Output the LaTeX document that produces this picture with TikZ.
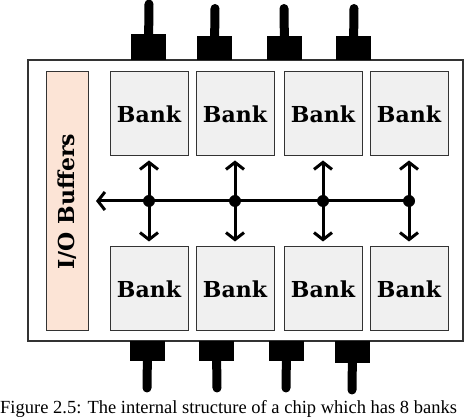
\documentclass[tikz,border=0pt]{standalone}
\usepackage{fontspec}
\setmainfont{Liberation Serif}
\newfontfamily\chipfont{DejaVu Serif}
\usepackage{tikz}
\usetikzlibrary{arrows.meta}
\tikzset{>={Straight Barb[length=7pt,width=18pt]}}
\definecolor{peach}{HTML}{FCE4D6}
\definecolor{bankgray}{HTML}{F0F0F0}
\definecolor{edge}{HTML}{333333}
\tikzset{
  bank/.style={draw=edge, line width=1pt, fill=bankgray, minimum width=78pt,
    minimum height=84pt, inner sep=0pt, font=\chipfont\bfseries\fontsize{22}{24}\selectfont},
  pad/.style={fill=black, minimum width=35pt, inner sep=0pt},
  stem/.style={line width=9pt, line cap=round},
  bus/.style={line width=3pt},
  joint/.style={circle, fill=black, minimum size=12pt, inner sep=0pt},
}

\begin{document}
\begin{tikzpicture}[x=1pt,y=-1pt]
\useasboundingbox (0,0) rectangle (474,419);

% chip and buffers
\node[draw=edge, line width=1.2pt, minimum width=435pt, minimum height=281pt] (chip) at (245.5,200.5) {};
\node[draw=edge, line width=1pt, fill=peach, rotate=90, minimum width=259pt, minimum height=42pt,
  inner sep=0pt, font=\chipfont\bfseries\fontsize{22}{24}\selectfont] (io) at (67,201.5) {I/O Buffers};

% upper banks
\node[bank] (up1) at (149,114) {Bank};
\node[bank] (up2) at (235,114) {Bank};
\node[bank] (up3) at (323,114) {Bank};
\node[bank] (up4) at (409,114) {Bank};

% lower banks
\node[bank] (lo1) at (149,289) {Bank};
\node[bank] (lo2) at (235,289) {Bank};
\node[bank] (lo3) at (323,289) {Bank};
\node[bank] (lo4) at (409,289) {Bank};

% bus
\node[joint] (j1) at (149,201) {};
\node[joint] (j2) at (235,201) {};
\node[joint] (j3) at (323,201) {};
\node[joint] (j4) at (409,201) {};
\coordinate (busend) at (96,201);
\draw[bus,->] (j4.center) -- (busend);

\draw[bus,<->,shorten <=4pt,shorten >=5pt] (up1) -- (lo1);
\draw[bus,<->,shorten <=4pt,shorten >=5pt] (up2) -- (lo2);
\draw[bus,<->,shorten <=4pt,shorten >=5pt] (up3) -- (lo3);
\draw[bus,<->,shorten <=4pt,shorten >=5pt] (up4) -- (lo4);

% pins on top
\node[pad, minimum height=26pt] (pa1) at (148.5,47) {};
\node[pad, minimum height=24pt] (pa2) at (214.5,48) {};
\node[pad, minimum height=24pt] (pa3) at (284.5,48) {};
\node[pad, minimum height=24pt] (pa4) at (353.5,48) {};
\coordinate (pe1) at (149,4);
\coordinate (pe2) at (215,8.5);
\coordinate (pe3) at (284,8.5);
\coordinate (pe4) at (354,8.5);
\draw[stem] (pa1.center) -- (pe1);
\draw[stem] (pa2.center) -- (pe2);
\draw[stem] (pa3.center) -- (pe3);
\draw[stem] (pa4.center) -- (pe4);

% pins below
\node[pad, minimum height=20pt] (pb1) at (147.5,351) {};
\node[pad, minimum height=20pt] (pb2) at (216.5,351) {};
\node[pad, minimum height=20pt] (pb3) at (286.5,351) {};
\node[pad, minimum height=22pt] (pb4) at (352.5,352) {};
\coordinate (pf1) at (147,388);
\coordinate (pf2) at (217,388);
\coordinate (pf3) at (286,388);
\coordinate (pf4) at (352,390);
\draw[stem] (pb1.center) -- (pf1);
\draw[stem] (pb2.center) -- (pf2);
\draw[stem] (pb3.center) -- (pf3);
\draw[stem] (pb4.center) -- (pf4);

% caption
\node[anchor=base west, inner sep=0pt, font=\fontsize{18.5}{20}\selectfont] (cap) at (0,414)
  {Figure 2.5: The internal structure of a chip which has 8 banks};
\end{tikzpicture}
\end{document}
